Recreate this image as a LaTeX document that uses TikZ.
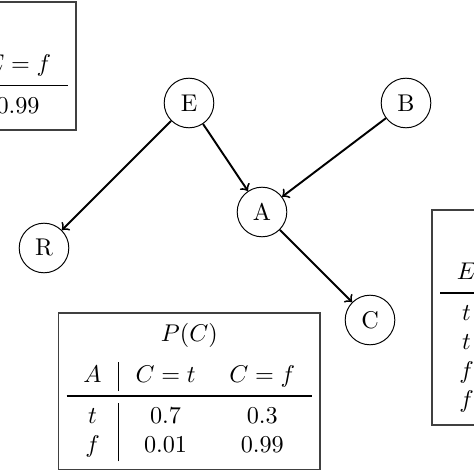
\documentclass[tikz,border=0pt]{standalone}
\usepackage{booktabs}
\setlength{\tabcolsep}{7pt}
\tikzset{bnet/.style={x=0.4132pt,y=-0.4132pt},
  var/.style={circle,draw,minimum size=20.5pt,inner sep=0pt},
  cpt/.style={draw=black!75,line width=0.8pt,inner sep=3.33pt},
  dep/.style={->,thick}}

\begin{document}
\begin{tikzpicture}[bnet]
    \useasboundingbox (0,0) rectangle (474,474);
    \clip (0,0) rectangle (474,474);
    % network
    \node[var] (E) at (189,103) {E};
    \node[var] (B) at (406,103) {B};
    \node[var] (A) at (262,212) {A};
    \node[var] (R) at (44,248) {R};
    \node[var] (C) at (370,320) {C};
    \draw[dep] (E) -- (R);
    \draw[dep] (E) -- (A);
    \draw[dep] (B) -- (A);
    \draw[dep] (A) -- (C);
    % conditional probability tables
    \node[cpt,anchor=north east] (cptE) at (77,1.5) {\begin{tabular}{cc}
        \multicolumn{2}{c}{$P(E)$}\\ \addlinespace
        $E=t$ & $E=f$\\ \midrule
        0.01 & 0.99
      \end{tabular}};
    \node[cpt,anchor=north west] (cptA) at (431,209) {\begin{tabular}{cc|cc}
        \multicolumn{4}{c}{$P(A)$}\\ \addlinespace
        $E$ & $B$ & $A=t$ & $A=f$\\ \midrule
        $t$ & $t$ & 0.95 & 0.05\\
        $t$ & $f$ & 0.29 & 0.71\\
        $f$ & $t$ & 0.94 & 0.06\\
        $f$ & $f$ & 0.001 & 0.999
      \end{tabular}};
    \node[cpt,anchor=north west] (cptC) at (57.5,312) {\begin{tabular}{c|cc}
        \multicolumn{3}{c}{$P(C)$}\\ \addlinespace
        $A$ & $C=t$ & $C=f$\\ \midrule
        $t$ & 0.7 & 0.3\\
        $f$ & 0.01 & 0.99
      \end{tabular}};
\end{tikzpicture}
\end{document}
